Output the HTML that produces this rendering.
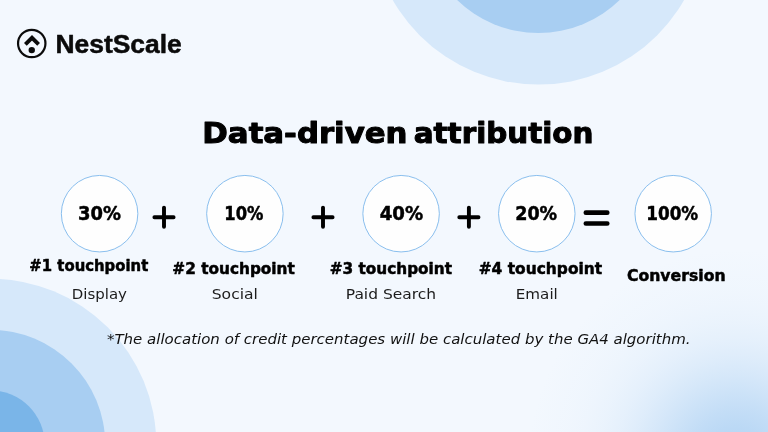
<!DOCTYPE html>
<html lang="en">
<head>
<meta charset="utf-8">
<title>Data-driven attribution</title>
<style>
html,body{margin:0;padding:0;background:#f3f8fe;}
body{width:768px;height:432px;overflow:hidden;}
svg{display:block;}
text{white-space:pre;}
.b{font-family:"DejaVu Sans","Liberation Sans",sans-serif;font-weight:bold;fill:#000;}
.r{font-family:"DejaVu Sans","Liberation Sans",sans-serif;font-weight:normal;fill:#1c1c1c;}
.i{font-family:"DejaVu Sans","Liberation Sans",sans-serif;font-style:italic;fill:#111;}
.logo{font-family:"Liberation Sans",sans-serif;font-weight:bold;fill:#0b0b0b;}
</style>
</head>
<body>
<svg width="768" height="432" viewBox="0 0 768 432">
  <defs>
    <radialGradient id="glow" cx="0" cy="0" r="3" gradientUnits="userSpaceOnUse" gradientTransform="translate(737 465) scale(70 72)">
      <stop offset="0.000" stop-color="#a8cef2" stop-opacity="0.850"/>
      <stop offset="0.083" stop-color="#a8cef2" stop-opacity="0.824"/>
      <stop offset="0.167" stop-color="#a8cef2" stop-opacity="0.750"/>
      <stop offset="0.250" stop-color="#a8cef2" stop-opacity="0.642"/>
      <stop offset="0.333" stop-color="#a8cef2" stop-opacity="0.516"/>
      <stop offset="0.417" stop-color="#a8cef2" stop-opacity="0.389"/>
      <stop offset="0.500" stop-color="#a8cef2" stop-opacity="0.276"/>
      <stop offset="0.583" stop-color="#a8cef2" stop-opacity="0.184"/>
      <stop offset="0.667" stop-color="#a8cef2" stop-opacity="0.115"/>
      <stop offset="0.750" stop-color="#a8cef2" stop-opacity="0.068"/>
      <stop offset="0.833" stop-color="#a8cef2" stop-opacity="0.037"/>
      <stop offset="0.917" stop-color="#a8cef2" stop-opacity="0.019"/>
      <stop offset="1.000" stop-color="#a8cef2" stop-opacity="0.000"/>
    </radialGradient>
  </defs>
  <g id="bg">
  <rect width="768" height="432" fill="#f3f8fe"/>
  <rect width="768" height="432" fill="url(#glow)"/>
  <!-- top-right rings -->
  <circle cx="538.4" cy="-83.2" r="167.8" fill="#d6e8fa"/>
  <circle cx="538.4" cy="-83.2" r="116.3" fill="#a8cef2"/>
  <!-- bottom-left rings -->
  <circle cx="-9.5" cy="444.5" r="165.8" fill="#d6e8fa"/>
  <circle cx="-9.5" cy="444.5" r="114.7" fill="#a8cef2"/>
  <circle cx="-9.5" cy="444.5" r="54.2" fill="#7ab5e8"/>
  </g>

  <!-- logo mark -->
  <g id="mark">
  <circle cx="31.75" cy="43.5" r="13.7" fill="none" stroke="#0b0b0b" stroke-width="2.2"/>
  <polyline points="25.38,44.38 32,37.76 38.62,44.38" fill="none" stroke="#0b0b0b" stroke-width="3.9" stroke-linejoin="miter"/>
  <circle cx="31.75" cy="50.1" r="3.2" fill="#0b0b0b"/>
  </g>

  <!-- percentage bubbles -->
  <g id="bubbles" fill="#fefefe" stroke="#8abfee" stroke-width="1">
    <circle cx="99.6" cy="213.7" r="38.25"/>
    <circle cx="244.9" cy="213.7" r="38.25"/>
    <circle cx="401.1" cy="213.7" r="38.25"/>
    <circle cx="536.8" cy="213.7" r="38.25"/>
    <circle cx="673.2" cy="213.7" r="38.25"/>
  </g>

  <!-- operators -->
  <g id="ops">
  <g stroke="#000" stroke-width="3.9" stroke-linecap="round" fill="none">
    <path d="M154.4 217.2H173.6M164 207.6V226.8"/>
    <path d="M313.4 217.2H332.6M323 207.6V226.8"/>
    <path d="M459.3 217.2H478.5M468.9 207.6V226.8"/>
  </g>
  <g stroke="#000" stroke-width="4.7" stroke-linecap="round" fill="none">
    <path d="M585.85 212.65H607.25M585.85 223.5H607.25"/>
  </g>
  </g>

  <text id="logo" class="logo" transform="translate(55.44 53.00) scale(1.0373 1.0000)" font-size="25.49" fill="#0b0b0b" stroke="#0b0b0b" stroke-width="0.5" stroke-linejoin="round">NestScale</text>
  <text id="title1" class="b" transform="translate(202.30 143.45) scale(1.1010 1.0000)" font-size="27.98" stroke="#000" stroke-width="1.0" stroke-linejoin="round">Data-driven</text>
  <text id="title2" class="b" transform="translate(413.71 143.45) scale(1.0515 1.0000)" font-size="27.98" stroke="#000" stroke-width="1.0" stroke-linejoin="round">attribution</text>
  <text id="p1" class="b" transform="translate(77.96 220.25) scale(0.9022 1.0000)" font-size="19.89" stroke="#000" stroke-width="0.5" stroke-linejoin="round">30%</text>
  <text id="p2" class="b" transform="translate(224.34 220.25) scale(0.8233 1.0000)" font-size="19.89" stroke="#000" stroke-width="0.5" stroke-linejoin="round">10%</text>
  <text id="p3" class="b" transform="translate(379.71 220.25) scale(0.9130 1.0000)" font-size="19.89" stroke="#000" stroke-width="0.5" stroke-linejoin="round">40%</text>
  <text id="p4" class="b" transform="translate(515.20 220.25) scale(0.8806 1.0000)" font-size="19.89" stroke="#000" stroke-width="0.5" stroke-linejoin="round">20%</text>
  <text id="p5" class="b" transform="translate(646.20 220.25) scale(0.8475 1.0000)" font-size="19.89" stroke="#000" stroke-width="0.5" stroke-linejoin="round">100%</text>
  <text id="l1" class="b" transform="translate(29.37 270.85) scale(0.9679 1.0000)" font-size="15.36" stroke="#000" stroke-width="0.5" stroke-linejoin="round">#1 touchpoint</text>
  <text id="l2" class="b" transform="translate(172.35 273.55) scale(0.9980 1.0000)" font-size="15.36" stroke="#000" stroke-width="0.5" stroke-linejoin="round">#2 touchpoint</text>
  <text id="l3" class="b" transform="translate(329.75 273.55) scale(0.9959 1.0000)" font-size="15.36" stroke="#000" stroke-width="0.5" stroke-linejoin="round">#3 touchpoint</text>
  <text id="l4" class="b" transform="translate(478.69 273.55) scale(1.0057 1.0000)" font-size="15.36" stroke="#000" stroke-width="0.5" stroke-linejoin="round">#4 touchpoint</text>
  <text id="l5" class="b" transform="translate(626.93 280.75) scale(1.0208 1.0000)" font-size="15.36" stroke="#000" stroke-width="0.5" stroke-linejoin="round">Conversion</text>
  <text id="s1" class="r" transform="translate(71.70 298.80) scale(1.0718 1.0000)" font-size="13.99">Display</text>
  <text id="s2" class="r" transform="translate(211.73 298.80) scale(1.1129 1.0000)" font-size="13.99">Social</text>
  <text id="s3" class="r" transform="translate(345.74 298.80) scale(1.1076 1.0000)" font-size="13.99">Paid Search</text>
  <text id="s4" class="r" transform="translate(515.78 298.80) scale(1.0834 1.0000)" font-size="13.99">Email</text>
  <text id="foot" class="i" transform="translate(106.98 344.20) scale(1.0456 1.0000)" font-size="14.33">*The allocation of credit percentages will be calculated by the GA4 algorithm.</text>
</svg>
</body>
</html>
